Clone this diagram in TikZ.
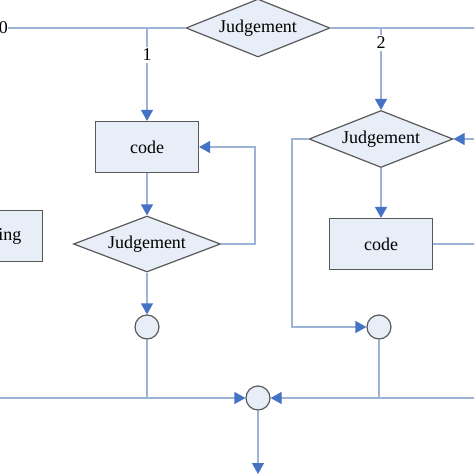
\documentclass[tikz,border=0pt]{standalone}
\usepackage{fontspec}
\setmainfont{Liberation Serif}
\usepackage{tikz}
\usetikzlibrary{
        arrows.meta,
        positioning,
        shapes,
        shapes.geometric
    }
\definecolor{linecol}{HTML}{9DB3D6}
\definecolor{tipcol}{HTML}{4472C4}
\definecolor{boxfill}{HTML}{E8EEF8}
\definecolor{boxline}{HTML}{595959}
\tikzset{>={Triangle[length=11pt,width=12pt,color=tipcol]},shorten >=0pt,auto,node distance=2cm}
\tikzset{
    flow/.style={draw=linecol,line width=1.2pt},
    block/.style={rectangle,draw=boxline,fill=boxfill,line width=1.2pt,minimum width=103pt,minimum height=51pt,font=\fontsize{18}{20}\selectfont},
    decision/.style={diamond,aspect=2.5,draw=boxline,fill=boxfill,line width=1.2pt,inner sep=0pt,minimum width=144pt,minimum height=57pt,font=\fontsize{18}{20}\selectfont},
    junction/.style={circle,draw=boxline,fill=boxfill,line width=1.2pt,minimum size=24pt,inner sep=0pt},
    branch/.style={auto=false,anchor=center,fill=white,inner sep=2pt,font=\fontsize{18}{20}\selectfont}
}

\begin{document}
\begin{tikzpicture}[x=1pt,y=-1pt]
    \useasboundingbox (0,0) rectangle (474,474);
    \clip (0,0) rectangle (474,474);

    % nodes
    \node[decision,minimum height=58pt] (topdec) at (258,28) {Judgement};
    \node[anchor=east,inner sep=0pt,font=\fontsize{18}{20}\selectfont] (zero) at (8,28) {0};
    \node[block] (code1) at (147,147) {code};
    \node[decision,minimum width=147pt,minimum height=56pt] (dec1) at (147,244) {Judgement};
    \node[junction] (join1) at (147,327) {};
    \node[junction] (merge) at (258,398) {};
    \node[decision] (dec2) at (381,139) {Judgement};
    \node[block] (code2) at (381,244) {code};
    \node[junction] (join2) at (379,327) {};
    \node[block,anchor=east,text width=61pt,inner xsep=21pt,align=right] (side) at (43,236) {ing};

    % free ends
    \coordinate (fork1) at (147,28);
    \coordinate (fork2) at (381,28);
    \coordinate (topR) at (474,28);
    \coordinate (inR) at (474,139);
    \coordinate (outR) at (474,244);
    \coordinate (loop1) at (255,244);
    \coordinate (loop2) at (292,139);
    \coordinate (inL) at (0,398);
    \coordinate (inBR) at (474,398);
    \coordinate (out) at (258,474);

    % connectors
    \draw[flow] (zero.east) -- (topdec.west);
    \draw[flow] (topdec.east) -- (topR);
    \draw[flow,->] (fork1) -- node[branch,pos=0.29] {1} (code1.north);
    \draw[flow,->] (fork2) -- node[branch,pos=0.18] {2} (dec2.north);
    \draw[flow,->] (code1.south) -- (dec1.north);
    \draw[flow,->] (dec1.east) -- (loop1) |- (code1.east);
    \draw[flow,->] (dec1.south) -- (join1.north);
    \draw[flow,->] (join1.south) |- (merge.west);
    \draw[flow] (inL) -- (join1.south |- inL);
    \draw[flow,->] (inR) -- (dec2.east);
    \draw[flow,->] (dec2.south) -- (code2.north);
    \draw[flow] (code2.east) -- (outR);
    \draw[flow,->] (dec2.west) -- (loop2) |- (join2.west);
    \draw[flow,->] (join2.south) |- (merge.east);
    \draw[flow] (inBR) -- (join2.south |- inBR);
    \draw[flow,->] (merge.south) -- (out);
\end{tikzpicture}
\end{document}
